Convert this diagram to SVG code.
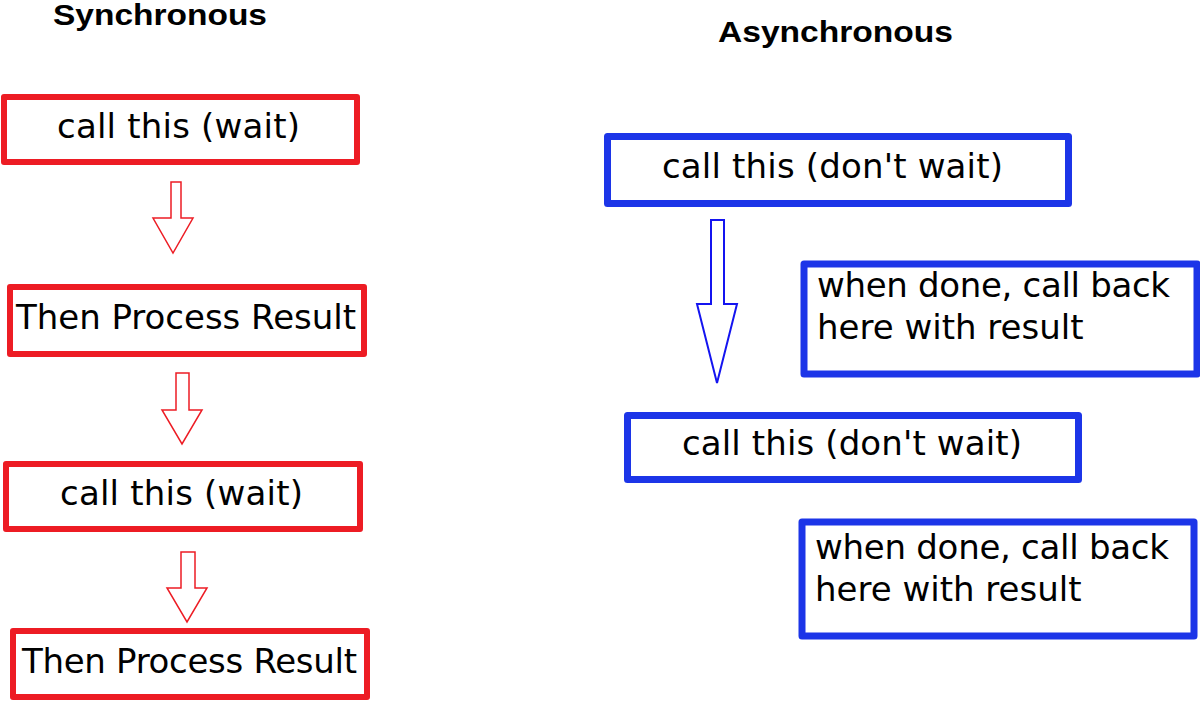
<svg xmlns="http://www.w3.org/2000/svg" width="1200" height="701" viewBox="0 0 1200 701">
<style>
  .title { font-family: "Liberation Sans", Arial, sans-serif; font-weight: bold; font-size: 30px; fill: #000; }
  .lbl { font-family: "DejaVu Sans", Verdana, sans-serif; font-size: 34px; fill: #000; }
  .rbox { fill: #fff; stroke: #ED1C24; stroke-width: 6; stroke-linejoin: round; }
  .bbox { fill: #fff; stroke: #1C35E8; stroke-width: 7; stroke-linejoin: round; }
  .rarrow { fill: #fff; stroke: #ED1C24; stroke-width: 1.5; }
  .barrow { fill: #fff; stroke: #1414F0; stroke-width: 2; }
</style>
<rect width="1200" height="701" fill="#fff"/>

<text id="title-sync" class="title" x="53" y="25" textLength="214" lengthAdjust="spacingAndGlyphs">Synchronous</text>
<text id="title-async" class="title" x="718" y="42" textLength="235" lengthAdjust="spacingAndGlyphs">Asynchronous</text>

<g id="connectors">
  <polygon class="rarrow" points="171,182 181,182 181,218 193,218 173,253 153,218 171,218"/>
  <polygon class="rarrow" points="176,373 189,373 189,410 202,410 182,444 162,410 176,410"/>
  <polygon class="rarrow" points="181,552 195,552 195,588 207,588 187,622 167,588 181,588"/>
  <polygon class="barrow" points="711,220 724,220 724,304 737,304 717,383 697,304 711,304"/>
</g>

<g id="sync-call-1">
  <rect class="rbox" x="4" y="97" width="353" height="65"/>
  <text class="lbl" x="57" y="138" textLength="243">call this (wait)</text>
</g>
<g id="sync-result-1">
  <rect class="rbox" x="10" y="287" width="354" height="67"/>
  <text class="lbl" x="16" y="329" textLength="340">Then Process Result</text>
</g>
<g id="sync-call-2">
  <rect class="rbox" x="6" y="464" width="354" height="65"/>
  <text class="lbl" x="60" y="505" textLength="243">call this (wait)</text>
</g>
<g id="sync-result-2">
  <rect class="rbox" x="13" y="631" width="354" height="66"/>
  <text class="lbl" x="22" y="673" textLength="335">Then Process Result</text>
</g>

<g id="async-call-1">
  <rect class="bbox" x="607.5" y="136.5" width="461" height="67"/>
  <text class="lbl" x="662" y="178" textLength="341">call this (don't wait)</text>
</g>
<g id="async-callback-1">
  <rect class="bbox" x="804" y="264" width="393" height="110"/>
  <text class="lbl" x="817" y="297" textLength="353">when done, call back</text>
  <text class="lbl" x="817" y="339">here with result</text>
</g>
<g id="async-call-2">
  <rect class="bbox" x="627.5" y="415.5" width="451" height="64"/>
  <text class="lbl" x="682" y="455" textLength="340">call this (don't wait)</text>
</g>
<g id="async-callback-2">
  <rect class="bbox" x="802" y="522" width="392" height="114"/>
  <text class="lbl" x="815" y="559" textLength="354">when done, call back</text>
  <text class="lbl" x="815" y="601">here with result</text>
</g>
</svg>
